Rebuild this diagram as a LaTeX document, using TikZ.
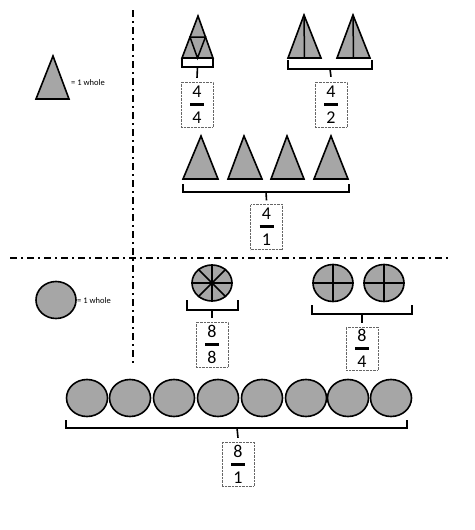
\documentclass[tikz,border=0pt]{standalone}
\usepackage{fontspec}
\setmainfont{Carlito}
\usetikzlibrary{shapes.geometric,calc}
\tikzstyle{tri} = [line width=1.6pt,
                   line join=miter,
                   draw=black,
                   fill=gray!70]
\tikzstyle{ell} = [ellipse,
                   line width=1.6pt,
                   inner sep=0pt,
                   draw=black,
                   fill=gray!70,
                   minimum width=40pt,
                   minimum height=37pt]
\tikzstyle{cut} = [line width=1.5pt]
\tikzstyle{fb} = [rectangle,
                  densely dotted,
                  draw=black!60,
                  inner sep=0pt,
                  align=center,
                  font=\fontsize{18}{13}\selectfont,
                  minimum width=32pt,
                  minimum height=45pt]
\tikzstyle{brk} = [line width=1.6pt]
\tikzstyle{sep} = [line width=1.5pt,
                   dash pattern=on 7pt off 4pt on 2pt off 4pt]
\tikzstyle{lbl} = [anchor=west,
                   inner sep=0pt,
                   font=\fontsize{8.5}{9}\selectfont]
\newcommand{\fr}[2]{#1\\\rule[4.5pt]{14pt}{2.8pt}\\#2}

\begin{document}
\begin{tikzpicture}[x=1pt,y=-1pt]
     \useasboundingbox (0,0) rectangle (474,530);
     % separators
     \draw[sep] (133,10) -- (133,366);
     \draw[sep] (10,258) -- (448,258);
     % legend
     \draw[tri] (53,56) -- (69,99) -- (36,99) -- cycle;
     \node[lbl] (wt) at (71,83) {= 1 whole};
     \node[ell] (we) at (56,300) {};
     \node[lbl] (wc) at (77,301) {= 1 whole};
     % 4/4
     \draw[tri] (198,16) -- (213,58) -- (182,58) -- cycle;
     \draw[cut] (190,37) -- (205.5,37) -- (197.5,58) -- cycle;
     \coordinate (b44) at (197.5,67);
     \draw[brk] (182,59) |- (213,67) -- (213,59);
     \node[fb] (f44) at (197,104.5) {\fr{4}{4}};
     \draw[brk] (b44) -- ($(f44.north)+(0,-4)$);
     % 4/2
     \draw[tri] (304,15) -- (321,58) -- (288,58) -- cycle;
     \draw[cut] (304,15) -- (304.5,58);
     \draw[tri] (353,15) -- (370,58) -- (337,58) -- cycle;
     \draw[cut] (353,15) -- (353.5,58);
     \coordinate (b42) at (330,69);
     \draw[brk] (288,60) |- (372,69) -- (372,60);
     \node[fb] (f42) at (331,104.5) {\fr{4}{2}};
     \draw[brk] (b42) -- ($(f42.north)+(0,-5)$);
     % 4/1
     \draw[tri] (201,136) -- (218,179) -- (183,179) -- cycle;
     \draw[tri] (244,136) -- (262,179) -- (228,179) -- cycle;
     \draw[tri] (287,136) -- (304,179) -- (271,179) -- cycle;
     \draw[tri] (331,136) -- (348,179) -- (314,179) -- cycle;
     \coordinate (b41) at (266,192);
     \draw[brk] (183,184) |- (349,192) -- (349,184);
     \node[fb] (f41) at (266.5,227) {\fr{4}{1}};
     \draw[brk] (b41) -- ($(f41.north)+(0,-4)$);
     % 8/8
     \node[ell, minimum height=36pt] (e88) at (212,283) {};
     \foreach \a/\b in {0/180,45/225,90/270,135/315}
          \draw[cut] (e88.\a) -- (e88.\b);
     \coordinate (b88) at (212,310);
     \draw[brk] (187,300) |- (238,310) -- (238,300);
     \node[fb] (f88) at (212,344.5) {\fr{8}{8}};
     \draw[brk] (b88) -- ($(f88.north)+(0,-4)$);
     % 8/4
     \node[ell] (e84a) at (333,283) {};
     \node[ell] (e84b) at (384,283) {};
     \draw[cut] (e84a.west) -- (e84a.east) (e84a.north) -- (e84a.south);
     \draw[cut] (e84b.west) -- (e84b.east) (e84b.north) -- (e84b.south);
     \coordinate (b84) at (362,314);
     \draw[brk] (312,305) |- (412,314) -- (412,305);
     \node[fb, minimum height=43pt] (f84) at (362,348.5) {\fr{8}{4}};
     \draw[brk] (b84) -- ($(f84.north)+(0,-4)$);
     % 8/1
     \foreach \x [count=\i] in {87,130,174,218,262,306,348,391}
          \node[ell, minimum width=41pt] (e81\i) at (\x,398) {};
     \coordinate (b81) at (237,428);
     \draw[brk] (66,420) |- (407,428) -- (407,420);
     \node[fb, minimum height=44pt] (f81) at (238,464) {\fr{8}{1}};
     \draw[brk] (b81) -- ($(f81.north)+(0,-4)$);
\end{tikzpicture}
\end{document}
